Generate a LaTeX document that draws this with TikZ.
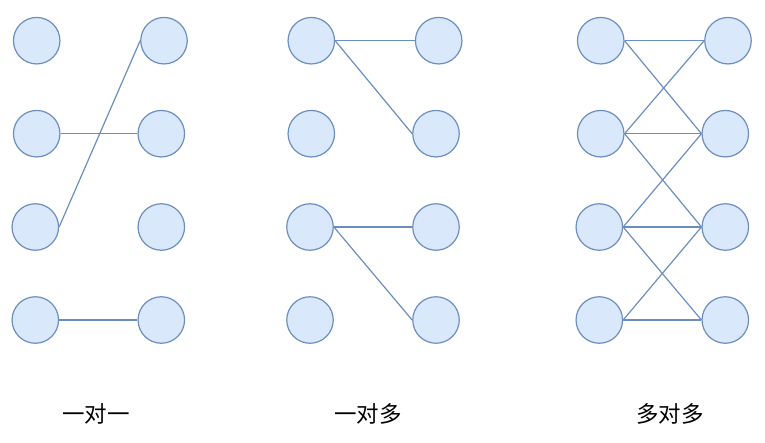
\documentclass[tikz,border=0pt]{standalone}
\usepackage{fontspec}
\newfontfamily\cjk{Noto Sans CJK SC}
\definecolor{nodefill}{HTML}{DAE8FC}
\definecolor{nodeline}{HTML}{6C8EBF}
\tikzset{
	elem/.style={circle, draw=nodeline, fill=nodefill, line width=1.2pt, minimum size=46.5pt, inner sep=0pt},
	liga/.style={draw=nodeline, line width=1.2pt},
	rotulo/.style={font=\cjk\fontsize{22.5}{22.5}\selectfont, inner sep=0pt}
}
\begin{document}
\begin{tikzpicture}[x=1pt,y=-1pt]
		\useasboundingbox (0,0) rectangle (765,442);
		
		% Um para um
		\node[elem] (a1) at (36.7,40.7) 	{};
		\node[elem] (a2) at (36.7,133.7) 	{};
		\node[elem] (a3) at (35.3,227) 		{};
		\node[elem] (a4) at (35.3,320) 		{};
		\node[elem] (b1) at (164,40.7) 		{};
		\node[elem] (b2) at (161.3,133.7) 	{};
		\node[elem] (b3) at (161.3,227) 	{};
		\node[elem] (b4) at (161.3,320) 	{};
		\node[rotulo] (r1) at (96,414) 		{一对一};
		
		% Um para muitos
		\node[elem] (c1) at (311.3,40.7) 	{};
		\node[elem] (c2) at (311.3,133.7) 	{};
		\node[elem] (c3) at (310,227) 		{};
		\node[elem] (c4) at (310,320) 		{};
		\node[elem] (d1) at (438.7,40.7) 	{};
		\node[elem] (d2) at (436,133.7) 	{};
		\node[elem] (d3) at (436,227) 		{};
		\node[elem] (d4) at (436,320) 		{};
		\node[rotulo] (r2) at (368,414) 	{一对多};
		
		% Muitos para muitos
		\node[elem] (e1) at (600.7,40.7) 	{};
		\node[elem] (e2) at (600.7,133.7) 	{};
		\node[elem] (e3) at (599.3,227) 	{};
		\node[elem] (e4) at (599.3,320) 	{};
		\node[elem] (f1) at (728,40.7) 		{};
		\node[elem] (f2) at (725.3,133.7) 	{};
		\node[elem] (f3) at (725.3,227) 	{};
		\node[elem] (f4) at (725.3,320) 	{};
		\node[rotulo] (r3) at (670,414) 	{多对多};
		
		% Ligações
		\draw[liga] (a3.east) -- (b1.west);
		\draw[liga] (a2.east) -- (b2.west);
		\draw[liga] (a4.east) -- (b4.west);
		
		\draw[liga] (c1.east) -- (d1.west);
		\draw[liga] (c1.east) -- (d2.west);
		\draw[liga] (c3.east) -- (d3.west);
		\draw[liga] (c3.east) -- (d4.west);
		
		\draw[liga] (e1.east) -- (f1.west);
		\draw[liga] (e1.east) -- (f2.west);
		\draw[liga] (e2.east) -- (f1.west);
		\draw[liga] (e2.east) -- (f2.west);
		\draw[liga] (e2.east) -- (f3.west);
		\draw[liga] (e3.east) -- (f2.west);
		\draw[liga] (e3.east) -- (f3.west);
		\draw[liga] (e3.east) -- (f4.west);
		\draw[liga] (e4.east) -- (f3.west);
		\draw[liga] (e4.east) -- (f4.west);
	\end{tikzpicture}
\end{document}
